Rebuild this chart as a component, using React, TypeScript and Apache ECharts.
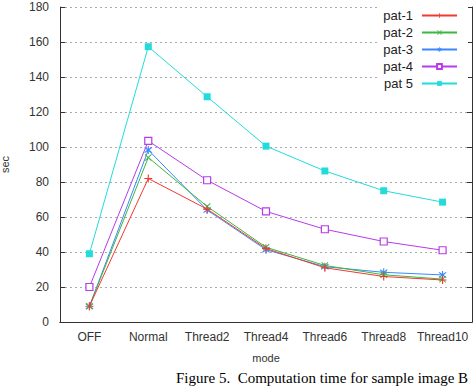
import React, { useEffect, useRef } from "react";
import * as echarts from "echarts";

const categories = ["OFF", "Normal", "Thread2", "Thread4", "Thread6", "Thread8", "Thread10"];
const seriesNames = ["pat-1", "pat-2", "pat-3", "pat-4", "pat 5"];
const pat1 = [9, 82, 64.5, 42, 31, 26, 24];
const pat2 = [9, 94, 66, 42.7, 32.3, 27, 24.5];
const pat3 = [9, 98.3, 64, 41.3, 31.6, 28.4, 26.9];
const pat4 = [20, 103.5, 81, 63.2, 53, 46, 41];
const pat5 = [39, 157.3, 128.7, 100.5, 86.3, 75, 68.5];
const yTicks = { min: 0, max: 180, interval: 20 };

const colors = ["#f03a30", "#3cb83c", "#3a88ff", "#b83ae8", "#22dcdc"];

const PLUS = "path://M4.3,0H5.7V4.3H10V5.7H5.7V10H4.3V5.7H0V4.3H4.3Z";
const CROSS =
  "path://M0,1L1,0L5,4L9,0L10,1L6,5L10,9L9,10L5,6L1,10L0,9L4,5Z";
const STAR =
  "path://M4.4,0H5.6V3.6L8.6,1.2L9.4,2.1L6.3,5L9.4,7.9L8.6,8.8L5.6,6.4V10H4.4V6.4L1.4,8.8L0.6,7.9L3.7,5L0.6,2.1L1.4,1.2L4.4,3.6Z";

export default function App() {
  const ref = useRef<HTMLDivElement>(null);
  useEffect(() => {
    if (!ref.current) return;
    const chart = echarts.init(ref.current, undefined, { renderer: "svg" });
    const data = [pat1, pat2, pat3, pat4, pat5];
    const symbols = [PLUS, CROSS, STAR, "rect", "rect"];
    const sizes = [8, 7, 8, 7, 7];
    const font = "Liberation Sans";
    chart.setOption({
      animation: false,
      backgroundColor: "#fff",
      textStyle: { fontFamily: font },
      grid: { left: 60, right: 2, top: 7, bottom: 68, containLabel: false, outerBoundsMode: "none" },
      legend: {
        orient: "vertical",
        right: 6,
        top: 6,
        align: "right",
        itemWidth: 35,
        itemHeight: 6,
        itemGap: 4,
        padding: [3, 10, 5, 6],
        backgroundColor: "#fff",
        textStyle: { fontFamily: font, fontSize: 13, color: "#222", padding: [0, 4, 0, 0], lineHeight: 12 },
        data: seriesNames,
      },
      xAxis: [
        {
          type: "category",
          data: categories,
          boundaryGap: true,
          name: "mode",
          nameLocation: "middle",
          nameGap: 30,
          nameTextStyle: { fontFamily: font, fontSize: 11, color: "#333" },
          axisLine: { lineStyle: { color: "#333", width: 1 } },
          axisTick: { inside: true, alignWithLabel: true, length: 5, lineStyle: { color: "#333" } },
          axisLabel: { fontFamily: font, fontSize: 12, color: "#333", margin: 9, interval: 0 },
          splitLine: { show: false },
        },
        {
          type: "category",
          data: categories,
          position: "top",
          boundaryGap: true,
          axisLine: { lineStyle: { color: "#333", width: 1 } },
          axisTick: { inside: true, alignWithLabel: true, length: 5, interval: 0, lineStyle: { color: "#333" } },
          axisLabel: { show: false },
        },
      ],
      yAxis: [
        {
          type: "value",
          min: yTicks.min,
          max: yTicks.max,
          interval: yTicks.interval,
          name: "sec",
          nameLocation: "middle",
          nameGap: 50,
          nameTextStyle: { fontFamily: font, fontSize: 11, color: "#333" },
          axisLine: { show: true, lineStyle: { color: "#333", width: 1 } },
          axisTick: { show: true, inside: true, length: 5, lineStyle: { color: "#333" } },
          axisLabel: { fontFamily: font, fontSize: 12, color: "#333", margin: 11 },
          splitLine: { show: true, lineStyle: { color: "#aaa", type: [2, 3], width: 1 } },
        },
        {
          type: "value",
          position: "right",
          min: yTicks.min,
          max: yTicks.max,
          interval: yTicks.interval,
          axisLine: { show: true, lineStyle: { color: "#333", width: 1 } },
          axisTick: { show: true, inside: true, length: 5, lineStyle: { color: "#333" } },
          axisLabel: { show: false },
          splitLine: { show: false },
        },
      ],
      series: seriesNames.map((n, i) => ({
        name: n,
        type: "line",
        data: data[i],
        symbol: symbols[i],
        symbolSize: sizes[i],
        showSymbol: true,
        color: colors[i],
        lineStyle: { color: colors[i], width: 1 },
        itemStyle:
          i === 3
            ? { color: "#fff", borderColor: colors[i], borderWidth: 1.2 }
            : { color: colors[i], borderWidth: 0 },
        z: 10 - i,
      })),
      graphic: [
        {
          type: "text",
          left: 176,
          top: 370,
          style: {
            text: "Figure 5.  Computation time for sample image B",
            fontFamily: "Liberation Serif",
            fontSize: 15,
            fill: "#000",
          },
        },
      ],
    });
    return () => chart.dispose();
  }, []);
  return <div ref={ref} style={{ width: 474, height: 390, position: "absolute", left: 0, top: 0 }} />;
}
